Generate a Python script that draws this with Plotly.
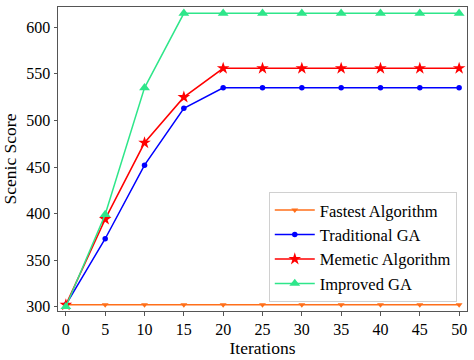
import plotly.graph_objects as go

iterations = [0, 5, 10, 15, 20, 25, 30, 35, 40, 45, 50]
fastest = [302, 302, 302, 302, 302, 302, 302, 302, 302, 302, 302]
traditional = [302, 373, 452, 513, 535, 535, 535, 535, 535, 535, 535]
memetic = [302, 394, 476, 525, 556, 556, 556, 556, 556, 556, 556]
improved = [300, 399, 535, 615, 615, 615, 615, 615, 615, 615, 615]
y_ticks = [300, 350, 400, 450, 500, 550, 600]
x_ticks = [0, 5, 10, 15, 20, 25, 30, 35, 40, 45, 50]

series = [
    ("Fastest Algorithm", fastest, "#ff6f1a", "triangle-down", 6),
    ("Traditional GA", traditional, "#0000ff", "circle", 5.5),
    ("Memetic Algorithm", memetic, "#ff0000", "star", 9.5),
    ("Improved GA", improved, "#2ee68a", "triangle-up", 9.5),
]

fig = go.Figure()
for name, vals, color, sym, size in series:
    fig.add_trace(go.Scatter(
        x=iterations, y=vals, name=name, mode="lines+markers",
        line=dict(color=color, width=1.5),
        marker=dict(symbol=sym, size=size, color=color, line=dict(width=0)),
    ))

font = "Liberation Serif, Times New Roman, serif"
fig.update_layout(
    width=474, height=360,
    margin=dict(l=58, r=7, t=7, b=49),
    paper_bgcolor="white", plot_bgcolor="white",
    font=dict(family=font, size=16, color="black"),
    showlegend=True,
    legend=dict(
        x=0.975, y=0.03, xanchor="right", yanchor="bottom",
        bgcolor="rgba(255,255,255,0.8)", bordercolor="#d0d0d0", borderwidth=1,
        font=dict(family=font, size=16.5), tracegroupgap=0, itemwidth=40,
    ),
    xaxis=dict(
        range=[-1, 51], tickvals=x_ticks, ticks="outside", ticklen=3.5,
        tickcolor="#555", showgrid=False, zeroline=False, showline=True,
        linecolor="#555", linewidth=1, mirror=True,
        title=dict(text="Iterations", standoff=1, font=dict(size=17.5)),
        tickfont=dict(size=16),
    ),
    yaxis=dict(
        range=[295.4, 621.8], tickvals=y_ticks, ticks="outside", ticklen=3.5,
        tickcolor="#555", showgrid=False, zeroline=False, showline=True,
        linecolor="#555", linewidth=1, mirror=True,
        title=dict(text="Scenic Score", standoff=5, font=dict(size=17.5)),
        tickfont=dict(size=16),
    ),
)

fig.write_html(
    "out.html",
    config={"displayModeBar": False},
    post_script="document.body.style.margin='0';document.body.style.padding='0';window.dispatchEvent(new Event('resize'));",
)
